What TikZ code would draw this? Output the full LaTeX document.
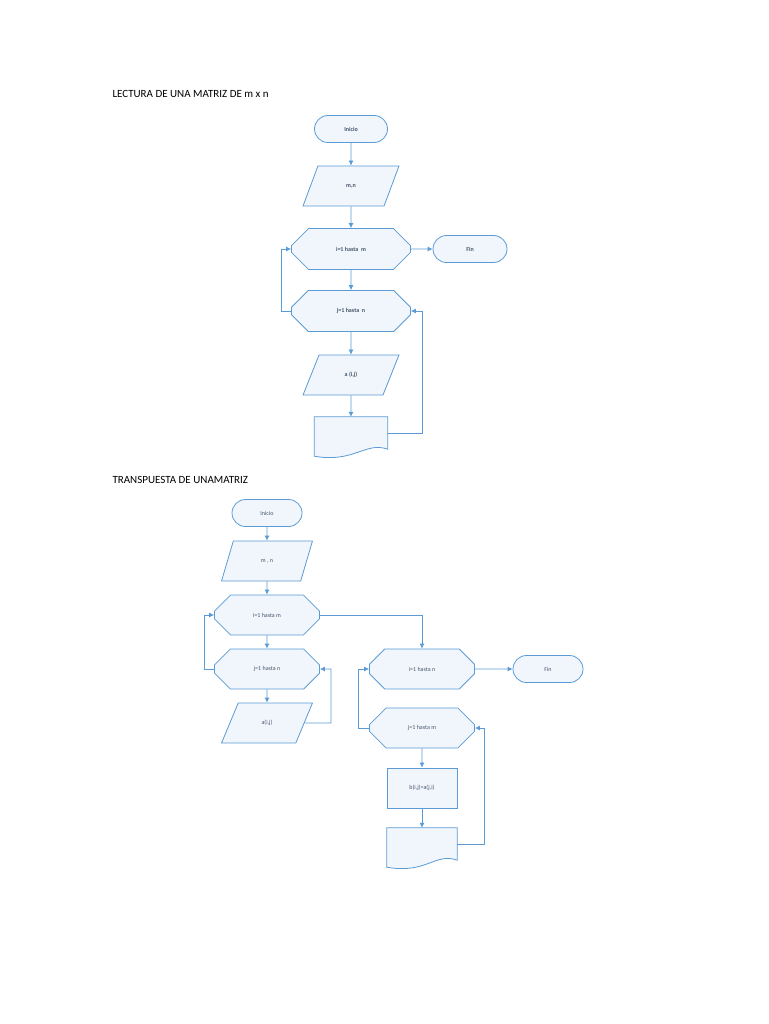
\documentclass[tikz,border=0pt]{standalone}
\usepackage{fontspec}
\setmainfont{Carlito}
\usetikzlibrary{shapes.geometric,shapes.misc,arrows.meta,calc}
\definecolor{ln}{RGB}{91,155,213}
\definecolor{fl}{RGB}{241,246,252}
\definecolor{tx}{RGB}{68,84,106}
\begin{document}
\begin{tikzpicture}[x=1pt,y=-1pt,
  base/.style={draw=ln,fill=fl,line width=0.8pt,text=tx,font=\fontsize{6}{7}\selectfont,inner sep=0pt},
  term/.style={base,rounded rectangle,minimum width=#1,minimum height=27},
  io/.style={base,trapezium,trapezium left angle=60,trapezium right angle=120,trapezium stretches=true,minimum width=#1,minimum height=40},
  hexa/.style={base,chamfered rectangle,chamfered rectangle xsep=15,chamfered rectangle ysep=21,minimum width=#1,minimum height=41},
  proc/.style={base,rectangle,minimum width=70,minimum height=40},
  docn/.style={draw=none,minimum width=#1,minimum height=32,inner sep=0pt,text=tx,font=\fontsize{6}{7}\selectfont},
  ar/.style={draw=ln,line width=0.8pt,-{Latex[length=5pt,width=5pt]}}]
\useasboundingbox (0,0) rectangle (768,1024);
\fill[white] (0,0) rectangle (768,1024);
\node[anchor=west,font=\fontsize{11}{13}\selectfont] (t1) at (109,94) {LECTURA DE UNA MATRIZ DE m x n};
\node[anchor=west,font=\fontsize{11}{13}\selectfont] (t2) at (109,480) {TRANSPUESTA DE UNAMATRIZ};
% top chart
\node[term=73,font=\bfseries\fontsize{6}{7}\selectfont] (a1) at (351,129) {Inicio};
\node[io=96,font=\bfseries\fontsize{6}{7}\selectfont] (a2) at (351,186) {m,n};
\node[hexa=119,font=\bfseries\fontsize{6}{7}\selectfont] (a3) at (351,249) {i=1 hasta \ m};
\node[term=74,font=\bfseries\fontsize{6}{7}\selectfont] (a4) at (470,249) {Fin};
\node[hexa=119,font=\bfseries\fontsize{6}{7}\selectfont] (a5) at (351,311) {j=1 hasta \ n};
\node[io=96,font=\bfseries\fontsize{6}{7}\selectfont] (a6) at (351,375) {a (i,j)};
\node[docn=73,font=\bfseries\fontsize{6}{7}\selectfont] (a7) at (351,433) {a (i,j)};
\draw[base,fill=fl] (a7.south west) -- (a7.north west) -- (a7.north east) -- (a7.south east)
  .. controls ($(a7.south east)+(-22,-8)$) and ($(a7.south west)+(40,14)$) .. ($(a7.south west)+(0,7)$) -- cycle;
\draw[ar] (a1) -- (a2);
\draw[ar] (a2) -- (a3);
\draw[ar] (a3) -- (a4);
\draw[ar] (a3) -- (a5);
\draw[ar] (a5) -- (a6);
\draw[ar] (a6) -- (a7);
\draw[ar] (a5.west) -- (281,311) -- (281,249) -- (a3.west);
\draw[ar] (a7.east) -- (422,437 |- a7.east) -- (422,311) -- (a5.east);
% bottom chart
\node[term=70] (b1) at (267,513) {Inicio};
\node[io=91] (b2) at (267,561) {m , n};
\node[hexa=105,chamfered rectangle ysep=20,minimum height=40] (b3) at (267,615) {i=1 hasta m};
\node[hexa=105,chamfered rectangle ysep=20,minimum height=40] (b4) at (267,669) {j=1 hasta n};
\node[io=91] (b5) at (267,723) {a(i,j)};
\node[hexa=105,chamfered rectangle ysep=20,minimum height=40] (c1) at (422,669) {i=1 hasta n};
\node[term=70] (c2) at (548,669) {Fin};
\node[hexa=105,chamfered rectangle ysep=20,minimum height=40] (c3) at (422,728) {j=1 hasta m};
\node[proc] (c4) at (422,788) {b(i,j)=a(j,i)};
\node[docn=70] (c5) at (422,844) {b(i,j)};
\draw[base,fill=fl] (c5.south west) -- (c5.north west) -- (c5.north east) -- (c5.south east)
  .. controls ($(c5.south east)+(-22,-8)$) and ($(c5.south west)+(40,14)$) .. ($(c5.south west)+(0,7)$) -- cycle;
\draw[ar] (b1) -- (b2);
\draw[ar] (b2) -- (b3);
\draw[ar] (b3) -- (b4);
\draw[ar] (b4) -- (b5);
\draw[ar] (b4.west) -- (204,669) -- (204,615) -- (b3.west);
\draw[ar] (b5.east) -- (331,723) -- (331,669) -- (b4.east);
\draw[ar] (b3.east) -- (422,615) -- (c1.north);
\draw[ar] (c1) -- (c2);
\draw[ar] (c3) -- (c4);
\draw[ar] (c4) -- (c5);
\draw[ar] (c3.west) -- (358,728) -- (358,669) -- (c1.west);
\draw[ar] (c5.east) -- (484,847 |- c5.east) -- (484,728) -- (c3.east);
\end{tikzpicture}
\end{document}
